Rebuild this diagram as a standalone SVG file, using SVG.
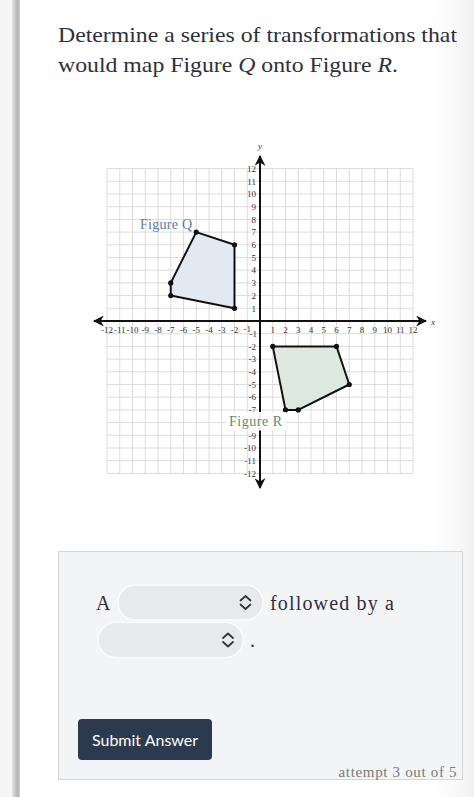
<svg xmlns="http://www.w3.org/2000/svg" width="474" height="797" viewBox="0 0 474 797">
<style>
.t{font-family:"Liberation Serif","DejaVu Serif",serif;fill:#2d3139}
.tick{font-family:"Liberation Serif","DejaVu Serif",serif;font-size:9px;fill:#333}
.tx{text-anchor:middle}
.ty{text-anchor:end}
.grid{stroke:#dcdcdc;stroke-width:1;fill:none}
.axis{stroke:#111;stroke-width:2;fill:none}
.edge{stroke:#111;stroke-width:2;stroke-linejoin:round}
.dot{fill:#111}
.pill{fill:#e8e9eb;stroke:#fbfbfb;stroke-width:1.5}
.chev{fill:none;stroke:#2d3139;stroke-width:1.7;stroke-linecap:round;stroke-linejoin:round}
</style>
<defs>
<linearGradient id="bar" x1="0" x2="1" y1="0" y2="0">
<stop offset="0" stop-color="#e4e4e4"/>
<stop offset="0.7" stop-color="#b4b4b4"/>
<stop offset="1" stop-color="#cfcfcf"/>
</linearGradient>
<linearGradient id="rshade" x1="0" x2="1" y1="0" y2="0">
<stop offset="0" stop-color="#ffffff" stop-opacity="0"/>
<stop offset="1" stop-color="#f0f0f0"/>
</linearGradient>
<marker id="arr" viewBox="0 0 10 10" refX="9" refY="5" markerWidth="5.5" markerHeight="5.5" orient="auto-start-reverse" markerUnits="strokeWidth">
<path d="M0,0 L10,5 L0,10 L3,5 z" fill="#111"/>
</marker>
</defs>
<rect x="0" y="0" width="474" height="797" fill="#ffffff"/>
<rect x="420" y="0" width="54" height="797" fill="url(#rshade)"/>
<rect x="0" y="0" width="13" height="797" fill="#f5f5f5"/>
<rect x="12" y="0" width="8" height="797" fill="url(#bar)"/>

<g id="title">
<text class="t" x="58" y="42" font-size="22" textLength="399" lengthAdjust="spacingAndGlyphs">Determine a series of transformations that</text>
<text class="t" x="58" y="72" font-size="22" textLength="340" lengthAdjust="spacingAndGlyphs">would map Figure <tspan font-style="italic">Q</tspan> onto Figure <tspan font-style="italic">R</tspan>.</text>
</g>

<g id="grid">
<path class="grid" d="M107 168.6V473.4M119.75 168.6V473.4M132.5 168.6V473.4M145.25 168.6V473.4M158 168.6V473.4M170.75 168.6V473.4M183.5 168.6V473.4M196.25 168.6V473.4M209 168.6V473.4M221.75 168.6V473.4M234.5 168.6V473.4M247.25 168.6V473.4M272.75 168.6V473.4M285.5 168.6V473.4M298.25 168.6V473.4M311 168.6V473.4M323.75 168.6V473.4M336.5 168.6V473.4M349.25 168.6V473.4M362 168.6V473.4M374.75 168.6V473.4M387.5 168.6V473.4M400.25 168.6V473.4M413 168.6V473.4"/>
<path class="grid" d="M107 168.6H413M107 181.3H413M107 194H413M107 206.7H413M107 219.4H413M107 232.1H413M107 244.8H413M107 257.5H413M107 270.2H413M107 282.9H413M107 295.6H413M107 308.3H413M107 333.7H413M107 346.4H413M107 359.1H413M107 371.8H413M107 384.5H413M107 397.2H413M107 409.9H413M107 422.6H413M107 435.3H413M107 448H413M107 460.7H413M107 473.4H413"/>
</g>

<g id="figure-q">
<polygon class="edge" fill="#e3e9f3" points="196.25,232.1 234.5,244.8 234.5,308.3 170.75,295.6 170.75,282.9"/>
<circle class="dot" cx="196.25" cy="232.1" r="2.6"/>
<circle class="dot" cx="234.5" cy="244.8" r="2.6"/>
<circle class="dot" cx="234.5" cy="308.3" r="2.6"/>
<circle class="dot" cx="170.75" cy="295.6" r="2.6"/>
<circle class="dot" cx="170.75" cy="282.9" r="2.6"/>
</g>

<g id="figure-r">
<polygon class="edge" fill="#dde8e0" points="272.75,346.4 336.5,346.4 349.25,384.5 298.25,409.9 285.5,409.9"/>
<circle class="dot" cx="272.75" cy="346.4" r="2.6"/>
<circle class="dot" cx="336.5" cy="346.4" r="2.6"/>
<circle class="dot" cx="349.25" cy="384.5" r="2.6"/>
<circle class="dot" cx="298.25" cy="409.9" r="2.6"/>
<circle class="dot" cx="285.5" cy="409.9" r="2.6"/>
</g>

<g id="axes">
<line class="axis" x1="94" y1="321" x2="426" y2="321" marker-start="url(#arr)" marker-end="url(#arr)"/>
<line class="axis" x1="260" y1="156" x2="260" y2="488" marker-start="url(#arr)" marker-end="url(#arr)"/>
<text class="tick" x="431" y="325" font-size="11" font-style="italic">x</text>
<text class="tick tx" x="260" y="149" font-size="11" font-style="italic">y</text>
</g>

<g id="x-ticks">
<text class="tick tx" x="107" y="333">-12</text>
<text class="tick tx" x="119.75" y="333">-11</text>
<text class="tick tx" x="132.5" y="333">-10</text>
<text class="tick tx" x="145.25" y="333">-9</text>
<text class="tick tx" x="158" y="333">-8</text>
<text class="tick tx" x="170.75" y="333">-7</text>
<text class="tick tx" x="183.5" y="333">-6</text>
<text class="tick tx" x="196.25" y="333">-5</text>
<text class="tick tx" x="209" y="333">-4</text>
<text class="tick tx" x="221.75" y="333">-3</text>
<text class="tick tx" x="234.5" y="333">-2</text>
<text class="tick tx" x="247.25" y="332">-1</text>
<text class="tick tx" x="272.75" y="333">1</text>
<text class="tick tx" x="285.5" y="333">2</text>
<text class="tick tx" x="298.25" y="333">3</text>
<text class="tick tx" x="311" y="333">4</text>
<text class="tick tx" x="323.75" y="333">5</text>
<text class="tick tx" x="336.5" y="333">6</text>
<text class="tick tx" x="349.25" y="333">7</text>
<text class="tick tx" x="362" y="333">8</text>
<text class="tick tx" x="374.75" y="333">9</text>
<text class="tick tx" x="387.5" y="333">10</text>
<text class="tick tx" x="400.25" y="333">11</text>
<text class="tick tx" x="413" y="333">12</text>
</g>

<g id="y-ticks">
<text class="tick ty" x="256" y="171.8">12</text>
<text class="tick ty" x="256" y="184.5">11</text>
<text class="tick ty" x="256" y="197.2">10</text>
<text class="tick ty" x="256" y="209.9">9</text>
<text class="tick ty" x="256" y="222.6">8</text>
<text class="tick ty" x="256" y="235.3">7</text>
<text class="tick ty" x="256" y="248">6</text>
<text class="tick ty" x="256" y="260.7">5</text>
<text class="tick ty" x="256" y="273.4">4</text>
<text class="tick ty" x="256" y="286.1">3</text>
<text class="tick ty" x="256" y="298.8">2</text>
<text class="tick ty" x="256" y="311.5">1</text>
<text class="tick ty" x="257" y="337">-1</text>
<text class="tick ty" x="256" y="349.6">-2</text>
<text class="tick ty" x="256" y="362.3">-3</text>
<text class="tick ty" x="256" y="375">-4</text>
<text class="tick ty" x="256" y="387.7">-5</text>
<text class="tick ty" x="256" y="400.4">-6</text>
<text class="tick ty" x="256" y="412.6">-7</text>
<text class="tick ty" x="256" y="438.5">-9</text>
<text class="tick ty" x="256" y="451.2">-10</text>
<text class="tick ty" x="256" y="463.9">-11</text>
<text class="tick ty" x="256" y="476.6">-12</text>
</g>

<g id="label-q">
<text class="t" x="140" y="229" font-size="14" style="fill:#5b7ba3" textLength="52" lengthAdjust="spacing">Figure Q</text>
</g>

<g id="label-r">
<rect x="226" y="412" width="60" height="18.5" fill="#ffffff" opacity="0.92"/>
<text class="t" x="229" y="426" font-size="14" style="fill:#5f8a6c" textLength="53" lengthAdjust="spacing">Figure R</text>
</g>

<g id="answer-panel">
<rect x="58.5" y="551.5" width="404" height="228" fill="#f3f4f6" stroke="#d6d6d6" stroke-width="1"/>
<text class="t" x="96" y="610" font-size="20">A</text>
<rect class="pill" x="118" y="585" width="145" height="35" rx="17.5"/>
<path class="chev" d="M240.5 600.5L245.5 596L250.5 600.5M240.5 604.5L245.5 609L250.5 604.5"/>
<text class="t" x="270" y="610" font-size="20" textLength="124" lengthAdjust="spacing">followed by a</text>
<rect class="pill" x="98" y="622.5" width="145" height="35" rx="17.5"/>
<path class="chev" d="M223 638L228 633.5L233 638M223 642L228 646.5L233 642"/>
<text class="t" x="250" y="647" font-size="20">.</text>
</g>

<g id="submit">
<rect x="78" y="719" width="134" height="41" rx="4" fill="#2b3a4d"/>
<text x="145" y="746" font-family="Lato,'Liberation Sans',sans-serif" font-size="16" fill="#ffffff" text-anchor="middle">Submit Answer</text>
</g>

<g id="attempt">
<text class="t" x="456.5" y="777" font-size="15" text-anchor="end" style="fill:#7a7a7a" textLength="118" lengthAdjust="spacing">attempt 3 out of 5</text>
</g>
</svg>
